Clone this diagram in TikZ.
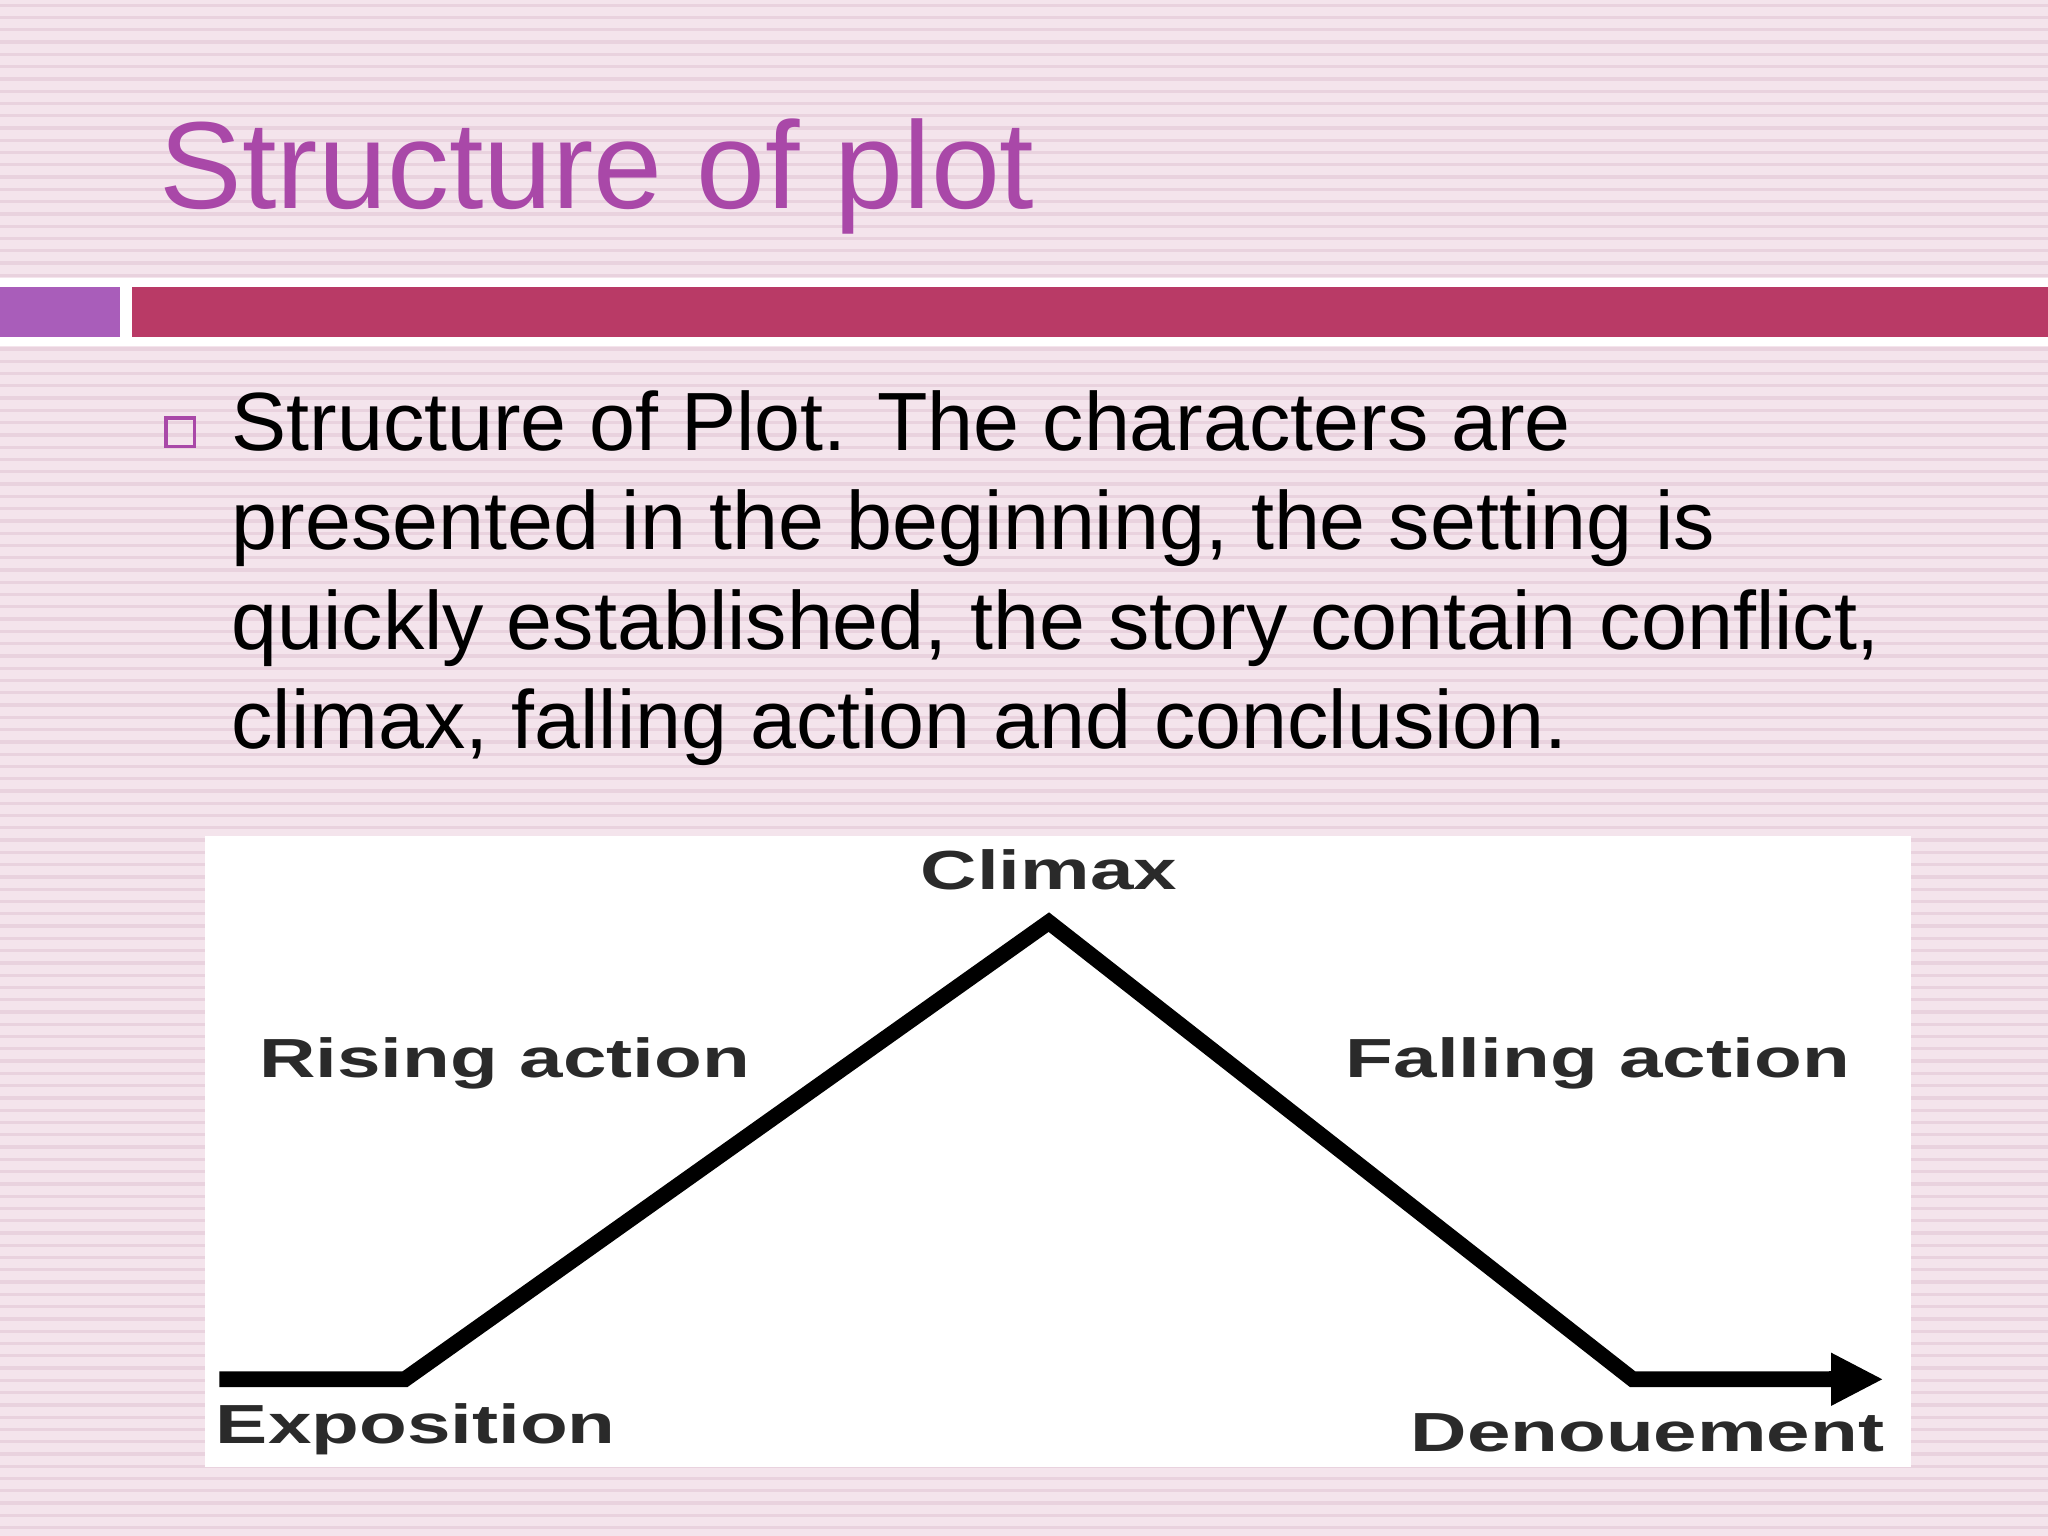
\documentclass[tikz,border=0pt]{standalone}
\usepackage{fontspec}
\setmainfont{Liberation Sans}
\newfontfamily\labfont[FakeStretch=1.42]{Liberation Sans}
\usetikzlibrary{arrows.meta}
\definecolor{bgpink}{HTML}{F4E4EC}
\definecolor{stripe}{HTML}{E9D2DE}
\definecolor{titlec}{HTML}{A948A8}
\definecolor{barpurple}{HTML}{A95DBA}
\definecolor{barred}{HTML}{B93A66}
\definecolor{lbl}{HTML}{2A2A2A}
\tikzset{lab/.style={font=\labfont\fontsize{24}{28}\selectfont\bfseries, text=lbl, inner sep=0pt},
 bodyline/.style={anchor=base west, inner sep=0pt, font=\fontsize{36}{43.2}\selectfont},
 plotline/.style={line width=0.24cm, line join=miter}}
\begin{document}
\begin{tikzpicture}[x=0.02cm,y=-0.02cm]
\useasboundingbox (0,0) rectangle (1568,1176);
\fill[bgpink] (0,0) rectangle (1568,1176);
\foreach \i in {0,...,125} { \draw[stripe,line width=0.05cm] (0,4+\i*9.4) -- (1568,4+\i*9.4); }
\node[anchor=base west, inner sep=0pt, text=titlec, font=\fontsize{54}{60}\selectfont] (title) at (122,160) {Structure of plot};
\fill[white] (0,213) rectangle (1568,265);
\fill[barpurple] (0,220) rectangle (92,258);
\fill[barred] (101,220) rectangle (1568,258);
\draw[titlec, line width=0.05cm] (127,320) rectangle (149,342);
\node[bodyline] (b1) at (177,345) {Structure of Plot. The characters are};
\node[bodyline] (b2) at (177,421) {presented in the beginning, the setting is};
\node[bodyline] (b3) at (177,497) {quickly established, the story contain conflict,};
\node[bodyline] (b4) at (177,573) {climax, falling action and conclusion.};
\fill[white] (157,640) rectangle (1463,1123);
\coordinate (s) at (168,1056);
\coordinate (e) at (310,1056);
\coordinate (c) at (803,706);
\coordinate (d) at (1250,1056);
\coordinate (t) at (1442,1056);
\draw[plotline] (s) -- (e) -- (c) -- (d) -- (1405,1056);
\draw[-{Triangle[length=0.8cm,width=0.75cm]}, line width=0.24cm] (1400,1056) -- (t);
\node[lab] (climax) at (803,666) {Climax};
\node[lab, anchor=west] (rise) at (198,814) {Rising action};
\node[lab, anchor=west] (fall) at (1030,814) {Falling action};
\node[lab, anchor=west] (expo) at (165,1094) {Exposition};
\node[lab, anchor=east] (deno) at (1443,1097) {Denouement};
\end{tikzpicture}
\end{document}
